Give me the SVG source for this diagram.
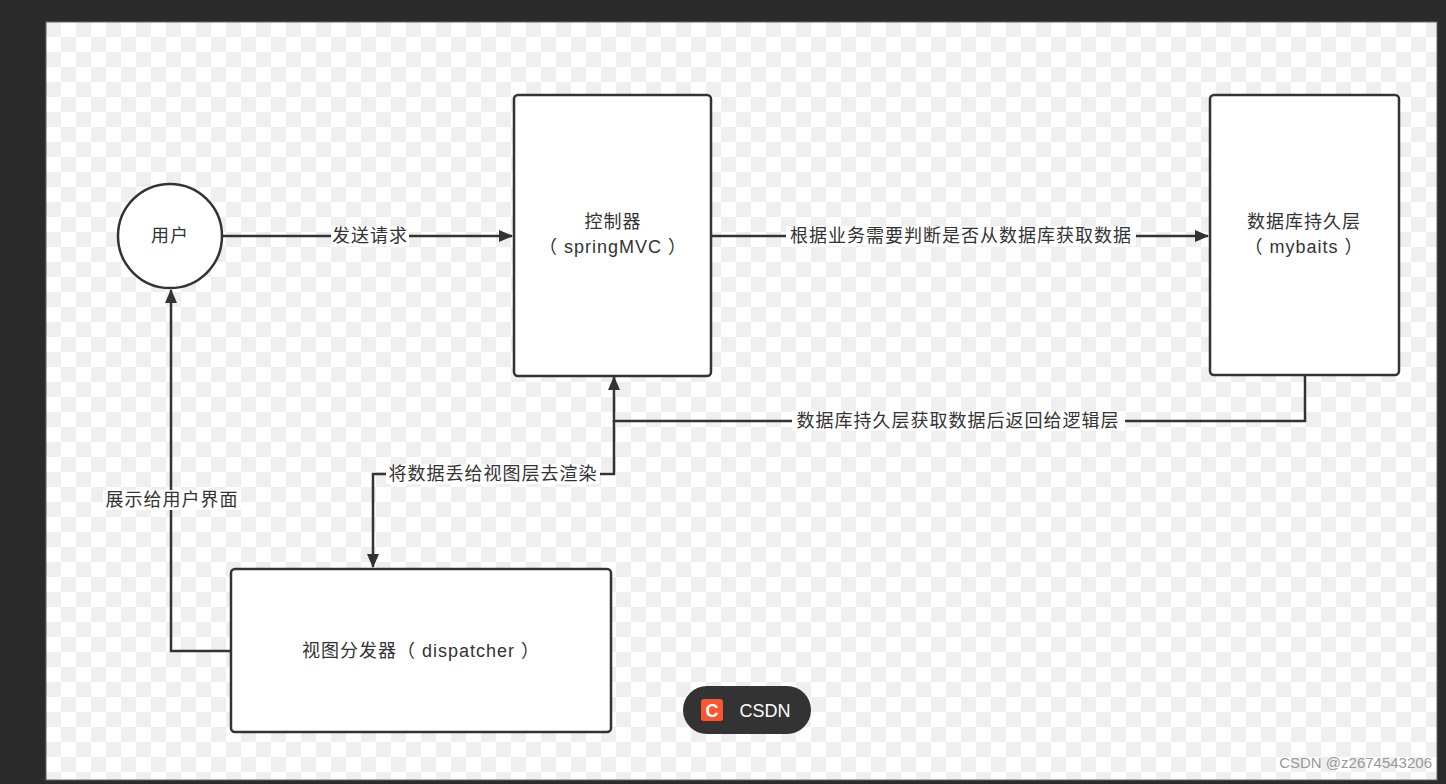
<svg xmlns="http://www.w3.org/2000/svg" width="1446" height="784" viewBox="0 0 1446 784">
<defs>
<pattern id="chk" x="46" y="22" width="30" height="30" patternUnits="userSpaceOnUse">
<rect width="30" height="30" fill="#ffffff"/>
<rect width="15" height="15" fill="#efefef"/>
<rect x="15" y="15" width="15" height="15" fill="#efefef"/>
</pattern>
<marker id="arr" markerWidth="14" markerHeight="12" refX="13" refY="6" orient="auto" markerUnits="userSpaceOnUse">
<path d="M0,0 L14,6 L0,12 Z" fill="#333"/>
</marker>
<style>
.n{fill:#fff;stroke:#333;stroke-width:2.5}
.t{font-family:"Liberation Sans","Noto Sans CJK SC",sans-serif;font-size:18px;letter-spacing:1px;fill:#333;text-anchor:middle;dominant-baseline:central}
.c{fill:none;stroke:#333;stroke-width:2.5}
.lb{fill:#fff}
</style>
</defs>
<rect width="1446" height="784" fill="#2b2b2b"/>
<rect x="46" y="22" width="1391" height="758" fill="url(#chk)" stroke="#666" stroke-width="1"/>
<g id="connectors">
<path class="c" d="M222,236 H512" marker-end="url(#arr)"/>
<path class="c" d="M711,236 H1208" marker-end="url(#arr)"/>
<path class="c" d="M1305,376 V421 H614 V377" marker-end="url(#arr)"/>
<path class="c" d="M614,421 V474 H373 V567" marker-end="url(#arr)"/>
<path class="c" d="M231,651 H171 V290" marker-end="url(#arr)"/>
<rect class="lb" x="331" y="226" width="78" height="20"/>
<text class="t" x="370" y="236">发送请求</text>
<rect class="lb" x="786" y="226" width="350" height="20"/>
<text class="t" x="961" y="236">根据业务需要判断是否从数据库获取数据</text>
<rect class="lb" x="792" y="411" width="333" height="20"/>
<text class="t" x="958" y="421">数据库持久层获取数据后返回给逻辑层</text>
<rect class="lb" x="386" y="464" width="214" height="20"/>
<text class="t" x="493" y="474">将数据丢给视图层去渲染</text>
<rect class="lb" x="103" y="490" width="138" height="20"/>
<text class="t" x="172" y="500">展示给用户界面</text>
</g>
<g id="user">
<circle class="n" cx="170" cy="236" r="52"/>
<text class="t" x="170" y="236">用户</text>
</g>
<g id="controller">
<rect class="n" x="514" y="95" width="197" height="281" rx="4"/>
<text class="t" x="613" y="222">控制器</text>
<text class="t" x="613" y="247">（ springMVC ）</text>
</g>
<g id="db">
<rect class="n" x="1210" y="95" width="189" height="280" rx="4"/>
<text class="t" x="1304" y="222">数据库持久层</text>
<text class="t" x="1304" y="247">（ mybaits ）</text>
</g>
<g id="dispatcher">
<rect class="n" x="231" y="569" width="380" height="163" rx="4"/>
<text class="t" x="421" y="651">视图分发器（ dispatcher ）</text>
</g>
<g id="badge">
<rect x="683" y="686" width="128" height="48" rx="24" fill="#333"/>
<rect x="701" y="699" width="22" height="22" rx="3" fill="#fc5531"/>
<text x="712" y="711" font-family="Liberation Sans,sans-serif" font-size="18" font-weight="bold" fill="#fff" text-anchor="middle" dominant-baseline="central">C</text>
<text x="765" y="711" font-family="Liberation Sans,sans-serif" font-size="18" fill="#fff" text-anchor="middle" dominant-baseline="central">CSDN</text>
</g>
<text x="1432" y="768" font-family="Liberation Sans,sans-serif" font-size="15" fill="#999" text-anchor="end">CSDN @z2674543206</text>
</svg>
